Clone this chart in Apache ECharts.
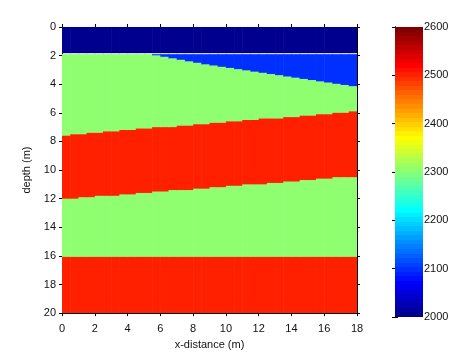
<!DOCTYPE html>
<html>
<head>
<meta charset="utf-8">
<script src="https://cdn.jsdelivr.net/npm/echarts@6/dist/echarts.min.js"></script>
<style>html,body{margin:0;padding:0;background:#fff;}#c{width:474px;height:355px;}</style>
</head>
<body>
<div id="c"></div>
<script>
// column edges along x-distance (m)
const xEdges = [0,0.5,1,1.5,2,2.5,3,3.5,4,4.5,5,5.5,6,6.5,7,7.5,8,8.5,9,9.5,10,10.5,11,11.5,12,12.5,13,13.5,14,14.5,15,15.5,16,16.5,17,17.5,18];
// depth of boundaries (m), one value per column
const topLayerBottom = 1.83;
const secondLayerTop = 1.9;
const wedgeBottom = [1.9,1.9,1.9,1.9,1.9,1.9,1.9,1.9,1.9,1.9,1.9,1.98,2.08,2.19,2.29,2.40,2.50,2.61,2.69,2.78,2.86,2.95,3.03,3.12,3.20,3.29,3.37,3.46,3.54,3.63,3.71,3.80,3.88,3.97,4.05,4.14];
const redTop = [7.6,7.5,7.5,7.4,7.4,7.3,7.3,7.2,7.2,7.1,7.1,7.0,7.0,7.0,6.9,6.9,6.8,6.8,6.7,6.7,6.6,6.6,6.5,6.5,6.4,6.4,6.4,6.3,6.3,6.2,6.2,6.1,6.1,6.0,6.0,5.9];
const redBottom = [12.0,12.0,11.9,11.9,11.8,11.8,11.8,11.7,11.7,11.6,11.6,11.5,11.5,11.4,11.4,11.4,11.3,11.3,11.2,11.2,11.1,11.1,11.0,11.0,11.0,10.9,10.9,10.8,10.8,10.7,10.7,10.6,10.6,10.5,10.5,10.5];
const lowerRedTop = 16.07;
const maxDepth = 20;
// layer values
const vTop = 2000, vWedge = 2100, vGreen = 2300, vRed = 2500;
// colour scale
const cMin = 2000, cMax = 2600;
const xTicks = [0,2,4,6,8,10,12,14,16,18];
const depthTicks = [0,2,4,6,8,10,12,14,16,18,20];
const cbTicks = [2000,2100,2200,2300,2400,2500,2600];

// MATLAB-style jet(64)
function jet64(v){
  let k = Math.floor((v - cMin) / (cMax - cMin) * 64); k = Math.max(0, Math.min(63, k));
  const m = k + 1;
  const f = x => Math.max(0, Math.min(1, x));
  const r = f(Math.min((m - 24) / 16, (72 - m) / 16));
  const g = f(Math.min((m - 8) / 16, (56 - m) / 16));
  const b = f(Math.min((m + 8) / 16, (40 - m) / 16));
  const h = x => Math.round(x*255);
  return 'rgb(' + h(r) + ',' + h(g) + ',' + h(b) + ')';
}

const cells = [];
for (let i = 0; i < xEdges.length - 1; i++) {
  const x0 = xEdges[i], x1 = xEdges[i+1];
  cells.push([x0, x1, 0, topLayerBottom, vTop, 0]);
  if (wedgeBottom[i] > secondLayerTop) cells.push([x0, x1, secondLayerTop, wedgeBottom[i], vWedge, 1]);
  cells.push([x0, x1, Math.max(wedgeBottom[i], secondLayerTop), redTop[i], vGreen, 1]);
  cells.push([x0, x1, redTop[i], redBottom[i], vRed, 1]);
  cells.push([x0, x1, redBottom[i], lowerRedTop, vGreen, 1]);
  cells.push([x0, x1, lowerRedTop, maxDepth, vRed, 1]);
}

const font = 'Liberation Sans, Arial, sans-serif';
const lbl = {color:'#111', fontFamily:font, fontSize:11};
const tickOut = {inside:false, length:3, lineStyle:{color:'#000'}};
const chart = echarts.init(document.getElementById('c'), null, {renderer:'canvas'});
chart.setOption({
  animation:false,
  backgroundColor:'#fff',
  grid:[
    {left:62, top:27, width:295, height:290},
    {left:395, top:27, width:28, height:290}
  ],
  xAxis:[
    {gridIndex:0, type:'value', min:0, max:18, interval:2, position:'bottom',
     axisLine:{show:true, onZero:false, lineStyle:{color:'#000'}},
     axisTick:tickOut,
     axisLabel:Object.assign({margin:10}, lbl), splitLine:{show:false},
     name:'x-distance (m)', nameLocation:'middle', nameGap:25, nameTextStyle:lbl},
    {gridIndex:0, type:'value', min:0, max:18, interval:2, position:'top',
     axisLine:{show:true, onZero:false, lineStyle:{color:'#000'}},
     axisTick:tickOut,
     axisLabel:{show:false}, splitLine:{show:false}},
    {gridIndex:1, type:'value', min:0, max:1, show:false}
  ],
  yAxis:[
    {gridIndex:0, type:'value', min:0, max:20, interval:2, inverse:true, position:'left',
     axisLine:{show:true, onZero:false, lineStyle:{color:'#000'}},
     axisTick:tickOut,
     axisLabel:Object.assign({margin:6}, lbl), splitLine:{show:false},
     name:'depth (m)', nameLocation:'middle', nameGap:17, nameTextStyle:lbl},
    {gridIndex:0, type:'value', min:0, max:20, interval:2, inverse:true, position:'right',
     axisLine:{show:true, onZero:false, lineStyle:{color:'#000'}},
     axisTick:tickOut,
     axisLabel:{show:false}, splitLine:{show:false}},
    {gridIndex:1, type:'value', min:cMin, max:cMax, interval:100, position:'right',
     axisLine:{show:true, lineStyle:{color:'#000'}},
     axisTick:{inside:true, length:3, lineStyle:{color:'#000'}},
     axisLabel:Object.assign({margin:1, formatter:function(v){return String(v);}}, lbl), splitLine:{show:false}},
    {gridIndex:1, type:'value', min:cMin, max:cMax, interval:100, position:'left',
     axisLine:{show:true, lineStyle:{color:'#000'}},
     axisTick:{inside:true, length:3, lineStyle:{color:'#000'}},
     axisLabel:{show:false}, splitLine:{show:false}}
  ],
  series:[
    {type:'custom', xAxisIndex:0, yAxisIndex:0, clip:true, z:1,
     data:cells,
     renderItem:function(params, api){
       const p0 = api.coord([api.value(0), api.value(2)]);
       const p1 = api.coord([api.value(1), api.value(3)]);
       const ext = api.value(5) ? 0.6 : 0;
       return {type:'rect', shape:{x:p0[0], y:p0[1], width:p1[0]-p0[0]+0.6, height:p1[1]-p0[1]+ext},
               style:{fill:jet64(api.value(4))}};
     }},
    {type:'custom', xAxisIndex:2, yAxisIndex:2, clip:true, z:1,
     data:[[0, cMin, 1, cMax]],
     renderItem:function(params, api){
       const p0 = api.coord([api.value(0), api.value(3)]);
       const p1 = api.coord([api.value(2), api.value(1)]);
       const stops = [];
       for (let k = 0; k < 64; k++) {
         const v = cMin + (k + 0.5) / 64 * (cMax - cMin);
         stops.push({offset:k/64, color:jet64(v)});
         stops.push({offset:(k+1)/64, color:jet64(v)});
       }
       return {type:'rect', shape:{x:p0[0], y:p0[1], width:p1[0]-p0[0], height:p1[1]-p0[1]},
               style:{fill:new echarts.graphic.LinearGradient(0,1,0,0, stops)}};
     }}
  ]
});
</script>
</body>
</html>
